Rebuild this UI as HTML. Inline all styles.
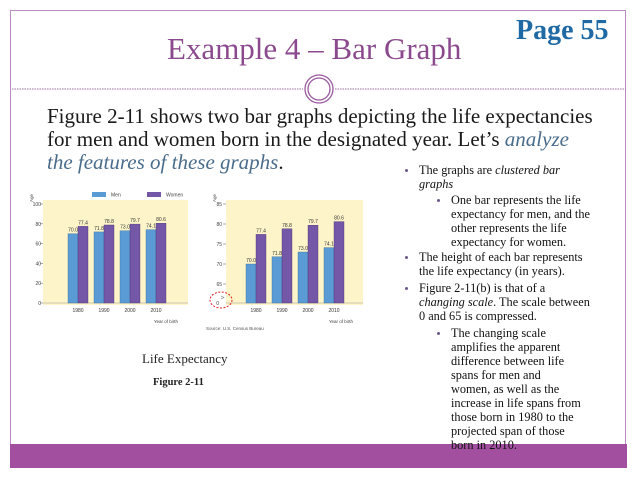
<!DOCTYPE html>
<html><head><meta charset="utf-8"><style>
body{margin:0;width:638px;height:478px;background:#fff;position:relative;overflow:hidden;font-family:"Liberation Serif",serif}
.a{position:absolute;white-space:nowrap}
.r{font-size:12.3px;color:#111;line-height:14px}
.b{position:absolute;width:3px;height:3px;border-radius:50%;background:#6a5a8a}
</style></head><body>
<div class="a" style="left:10px;top:10px;width:616px;height:458px;border:1px solid #b98bc0;border-bottom:none;box-sizing:border-box"></div>
<div class="a" style="left:10px;top:444px;width:617px;height:24px;background:#a24fa0"></div>
<div class="a" style="left:167px;top:31px;font-size:31px;color:#8b4a8d">Example 4 – Bar Graph</div>
<div class="a" style="left:516px;top:15px;font-size:28px;font-weight:bold;color:#1f6aa5">Page 55</div>
<svg class="a" style="left:0;top:0" width="638" height="130">
<line x1="12" y1="89" x2="303" y2="89" stroke="#a070a8" stroke-dasharray="1.5,1"/>
<line x1="335" y1="89" x2="626" y2="89" stroke="#a070a8" stroke-dasharray="1.5,1"/>
<circle cx="319" cy="89" r="14" fill="#fff" stroke="#9a5aa0" stroke-width="1.3"/>
<circle cx="319" cy="89" r="11" fill="none" stroke="#9a5aa0" stroke-width="1.3"/>
</svg>
<div class="a" style="left:47px;top:105px;font-size:21px;line-height:23px;color:#1a1a1a">Figure 2-11 shows two bar graphs depicting the life expectancies<br>for men and women born in the designated year. Let’s <i style="color:#4a6d8c">analyze</i><br><i style="color:#4a6d8c">the features of these graphs</i>.</div>

<svg class="a" style="left:0;top:185px" width="380" height="155" id="charts"></svg>

<div class="a" style="left:142px;top:351px;font-size:13px;color:#222">Life Expectancy</div>
<div class="a" style="left:153px;top:377px;font-size:10.5px;font-weight:bold;color:#222">Figure 2-11</div>

<div>
<div class="b" style="left:405px;top:169px"></div>
<div class="a r" style="left:419px;top:163px">The graphs are <i>clustered bar</i><br><i>graphs</i></div>
<div class="b" style="left:437px;top:199px"></div>
<div class="a r" style="left:451px;top:193px">One bar represents the life<br>expectancy for men, and the<br>other represents the life<br>expectancy for women.</div>
<div class="b" style="left:405px;top:256px"></div>
<div class="a r" style="left:419px;top:250px">The height of each bar represents<br>the life expectancy (in years).</div>
<div class="b" style="left:405px;top:287px"></div>
<div class="a r" style="left:419px;top:281px">Figure 2-11(b) is that of a<br><i>changing scale</i>. The scale between<br>0 and 65 is compressed.</div>
<div class="b" style="left:437px;top:332px"></div>
<div class="a r" style="left:451px;top:326px">The changing scale<br>amplifies the apparent<br>difference between life<br>spans for men and<br>women, as well as the<br>increase in life spans from<br>those born in 1980 to the<br>projected span of those<br>born in 2010.</div>
</div>

<script>
const years=["1980","1990","2000","2010"];
const men=[70.0,71.8,73.0,74.1];
const women=[77.4,78.8,79.7,80.6];
const ticksA=[0,20,40,60,80,100];
const ticksB=[65,70,75,80,85];
const NS="http://www.w3.org/2000/svg";
const svg=document.getElementById('charts');
function el(t,a,txt){const e=document.createElementNS(NS,t);for(const k in a)e.setAttribute(k,a[k]);if(txt!==undefined)e.textContent=txt;svg.appendChild(e);return e;}
const OY=185;
const yA=v=>303-OY-v*0.99;
const yB=v=>v<65?303-OY:284-OY-(v-65)*4;
function chart(x0,x1,cx0,yf,ticks,lab,tx,name){
  let bg=el('rect',{x:x0,y:200-OY,width:x1-x0,height:105,fill:'#fdf5c9'});
  
  
  ticks.forEach(t=>{
    let y=yf(t);
    el('line',{x1:x0-3,x2:x0,y1:y,y2:y,stroke:'#777','stroke-width':0.6});
    let e=el('text',{x:tx,y:y+2,'font-size':5,'text-anchor':'end',fill:'#444','font-family':'Liberation Sans'},t);
    
    
  });
  el('line',{x1:x0,x2:x1,y1:303-OY,y2:303-OY,stroke:'#999','stroke-width':0.6});
  el('text',{x:x0-10,y:202-OY,'font-size':4.5,fill:'#555','font-family':'Liberation Sans',transform:`rotate(-90 ${x0-10} ${202-OY})`},'Age');
  years.forEach((yr,i)=>{
    const c=cx0+i*26;
    let m=el('rect',{x:c-10,y:yf(men[i]),width:10,height:303-OY-yf(men[i]),fill:'#5b9bd5',stroke:'#3a70a0','stroke-width':0.4});
    
    
    let w=el('rect',{x:c,y:yf(women[i]),width:10,height:303-OY-yf(women[i]),fill:'#7557a8',stroke:'#4a3578','stroke-width':0.4});
    
    
    el('text',{x:c-5,y:yf(men[i])-2,'font-size':5,'text-anchor':'middle',fill:'#333','font-family':'Liberation Sans'},men[i].toFixed(1));
    el('text',{x:c+5,y:yf(women[i])-2,'font-size':5,'text-anchor':'middle',fill:'#333','font-family':'Liberation Sans'},women[i].toFixed(1));
    let xl=el('text',{x:c,y:312-OY,'font-size':5,'text-anchor':'middle',fill:'#333','font-family':'Liberation Sans'},yr);
    
    
  });
  el('text',{x:x1-10,y:323-OY,'font-size':4.5,'text-anchor':'end',fill:'#444','font-family':'Liberation Sans'},'Year of birth');
}
chart(43,188,78,yA,ticksA,null,41,'chart-a');
chart(226,363,256,yB,ticksB,null,222,'chart-b');
el('text',{x:219,y:305-OY,'font-size':5,'text-anchor':'end',fill:'#444','font-family':'Liberation Sans'},'0');
el('path',{d:`M221 ${296-OY} l3 1.5 l-3 1.5`,stroke:'#777',fill:'none','stroke-width':0.6});
let cir=el('ellipse',{cx:221,cy:300-OY,rx:11,ry:8,fill:'none',stroke:'#d22','stroke-width':1,'stroke-dasharray':'2,1.5'});


let lm=el('rect',{x:92,y:192-OY,width:14,height:5,fill:'#5b9bd5'});


el('text',{x:111,y:196.5-OY,'font-size':5,fill:'#444','font-family':'Liberation Sans'},'Men');
let lw=el('rect',{x:147,y:192-OY,width:14,height:5,fill:'#7557a8'});


el('text',{x:166,y:196.5-OY,'font-size':5,fill:'#444','font-family':'Liberation Sans'},'Women');
el('text',{x:206,y:330-OY,'font-size':4.5,fill:'#555','font-family':'Liberation Sans'},'Source: U.S. Census Bureau');
</script>
</body></html>
